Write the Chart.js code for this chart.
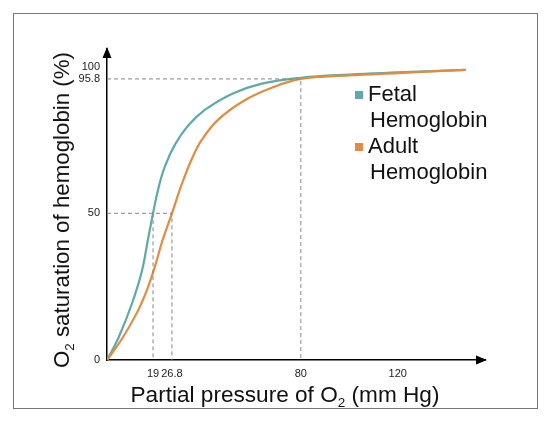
<!DOCTYPE html>
<html>
<head>
<meta charset="utf-8">
<script src="https://cdn.jsdelivr.net/npm/chart.js@4.4.1/dist/chart.umd.min.js"></script>
<style>
  body { margin: 0; background: #fff; font-family: "Liberation Sans", Arial, sans-serif; }
  #wrap { position: relative; width: 550px; height: 431px; }
  #frame { position: absolute; left: 13px; top: 13px; width: 523px; height: 394px; border: 1.5px solid #777; box-sizing: content-box; }
  canvas { position: absolute; left: 0; top: 0; }
  .ytitle { position: absolute; left: 62px; top: 210px; transform: translate(-50%, -50%) rotate(-90deg); white-space: nowrap; font-size: 22.3px; color: #111; }
  .xtitle { position: absolute; left: 285px; top: 395px; transform: translate(-50%, -50%); white-space: nowrap; font-size: 22.6px; color: #111; }
  sub { font-size: 60%; vertical-align: -0.35em; line-height: 0; }
  .legend { position: absolute; left: 355px; top: 81px; font-size: 22px; line-height: 26px; color: #111; }
  .legend .sw { display: inline-block; width: 8px; height: 8px; margin-right: 5px; vertical-align: 2px; }
  .legend .rest { padding-left: 15px; }
</style>
</head>
<body>
<div id="wrap">
  <div id="frame"></div>
  <canvas id="myChart" width="550" height="431"></canvas>
  <div class="ytitle">O<sub>2</sub> saturation of hemoglobin (%)</div>
  <div class="xtitle">Partial pressure of O<sub>2</sub> (mm Hg)</div>
  <div class="legend">
    <div><span class="sw" style="background:#5eaaa9"></span>Fetal</div>
    <div class="rest">Hemoglobin</div>
    <div><span class="sw" style="background:#e28c42"></span>Adult</div>
    <div class="rest">Hemoglobin</div>
  </div>
</div>
<script>
// values (pressure in mm Hg, saturation in %)
let fetalPressure = [0, 4.7, 10.2, 14.3, 17, 19, 21.2, 23.9, 28.1, 33.6, 40.5, 51.5, 63.9, 80, 100, 120, 148];
let fetalSaturation = [0, 7.5, 19, 30, 41.5, 50, 58.5, 66, 73.5, 80, 85.3, 90.7, 94.2, 96.2, 97.3, 98, 98.9];

let adultPressure = [0, 6, 12.9, 17, 20, 23, 26.8, 30.9, 35, 39.1, 46, 57, 68, 80, 100, 120, 148];
let adultSaturation = [0, 7, 17, 25, 32.5, 41, 50, 60, 68.5, 75, 82, 88.6, 92.8, 95.8, 97, 97.8, 98.9];

let xTickValues = [19, 26.8, 80, 120];
let yTickValues = [0, 50, 95.8, 100];

// dashed guide points: [pressure, saturation]
let guideFetal = [19, 50];
let guideAdult = [26.8, 50];
let guideTop = [80, 95.8];

function toPoints(xs, ys) {
  return xs.map((x, i) => ({ x: x, y: ys[i] }));
}

function guide(p, fromAxis) {
  let pts = [];
  if (fromAxis) pts.push({ x: 0, y: p[1] });
  pts.push({ x: p[0], y: p[1] });
  pts.push({ x: p[0], y: 0 });
  return pts;
}

const guideStyle = {
  borderColor: "#888",
  borderWidth: 1,
  borderDash: [4, 3],
  pointRadius: 0,
  tension: 0,
  showLine: true
};

// arrow heads at the end of both axes
const arrows = {
  id: "arrows",
  afterDraw(chart) {
    const ctx = chart.ctx;
    const a = chart.chartArea;
    ctx.save();
    ctx.fillStyle = "#000";
    ctx.beginPath();
    ctx.moveTo(a.left, a.top - 2);
    ctx.lineTo(a.left - 4.5, a.top + 9);
    ctx.lineTo(a.left + 4.5, a.top + 9);
    ctx.closePath();
    ctx.fill();
    ctx.beginPath();
    ctx.moveTo(a.right + 2, a.bottom);
    ctx.lineTo(a.right - 9, a.bottom - 4.5);
    ctx.lineTo(a.right - 9, a.bottom + 4.5);
    ctx.closePath();
    ctx.fill();
    ctx.restore();
  }
};

const data = {
  datasets: [
    Object.assign({ data: guide(guideFetal, false) }, guideStyle),
    Object.assign({ data: guide(guideAdult, true) }, guideStyle),
    Object.assign({ data: guide(guideTop, true) }, guideStyle),
    {
      label: "Adult Hemoglobin",
      data: toPoints(adultPressure, adultSaturation),
      borderColor: "#e28c42",
      borderWidth: 2.2,
      pointRadius: 0,
      showLine: true,
      tension: 0.4
    },
    {
      label: "Fetal Hemoglobin",
      data: toPoints(fetalPressure, fetalSaturation),
      borderColor: "#5eaaa9",
      borderWidth: 2.2,
      pointRadius: 0,
      showLine: true,
      tension: 0.4
    }
  ]
};

const config = {
  type: "scatter",
  data: data,
  options: {
    responsive: false,
    animation: false,
    layout: { padding: { top: 49, right: 65, left: 0, bottom: 0 } },
    plugins: { legend: { display: false }, tooltip: { enabled: false } },
    scales: {
      x: {
        type: "linear",
        min: 0,
        max: 156,
        grid: { display: false, drawTicks: false },
        border: { display: true, color: "#000", width: 1.5 },
        afterBuildTicks: (axis) => { axis.ticks = xTickValues.map(v => ({ value: v })); },
        afterFit: (axis) => { axis.height = 71; },
        ticks: {
          autoSkip: false,
          maxRotation: 0,
          padding: 7,
          color: "#222",
          font: { family: "Liberation Sans", size: 11 },
          callback: (v) => String(v)
        }
      },
      y: {
        type: "linear",
        min: 0,
        max: 106,
        grid: { display: false, drawTicks: false },
        border: { display: true, color: "#000", width: 1.5 },
        afterBuildTicks: (axis) => { axis.ticks = yTickValues.map(v => ({ value: v })); },
        afterFit: (axis) => { axis.width = 107; },
        ticks: {
          autoSkip: false,
          padding: 7,
          color: "#222",
          font: { family: "Liberation Sans", size: 11 },
          callback: (v) => String(v)
        }
      }
    }
  },
  plugins: [arrows]
};

const myChart = new Chart(document.getElementById("myChart"), config);
</script>
</body>
</html>
